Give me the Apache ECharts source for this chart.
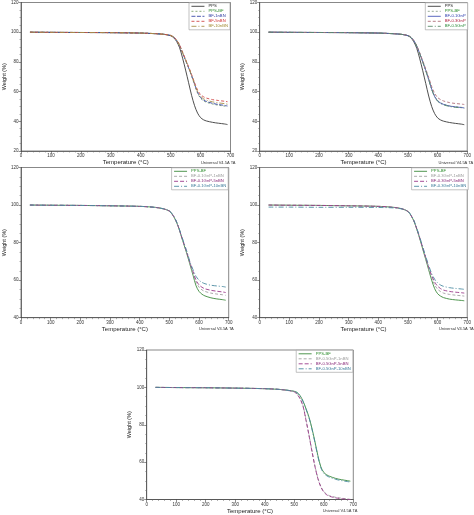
<!DOCTYPE html>
<html><head><meta charset="utf-8">
<script src="https://cdn.jsdelivr.net/npm/echarts@6/dist/echarts.min.js"></script>
<style>html,body{margin:0;padding:0;background:#fff}#c{width:474px;height:515px}</style>
</head><body><div id="c"></div>
<script>
// Temperatures (°C) at which weights are read
const temps = [30, 100, 200, 300, 400, 450, 480, 500, 510, 520, 530, 540, 550, 560, 570, 580, 590, 600, 610, 620, 640, 660, 680, 690];

// Panel 1
const p1_PPS      = [100, 99.9, 99.8, 99.7, 99.4, 99.0, 98.5, 97.6, 96.3, 93.8, 89.5, 82.5, 74.5, 66.0, 57.5, 50.5, 45.5, 42.5, 41.0, 40.2, 39.3, 38.7, 38.2, 37.8];
const p1_PPSBF    = [100, 99.9, 99.8, 99.7, 99.4, 99.0, 98.5, 97.8, 96.7, 94.5, 91.0, 86.0, 81.0, 76.0, 70.5, 64.5, 59.0, 55.5, 53.8, 52.8, 51.6, 50.8, 50.2, 49.8];
const p1_BF1nBN   = [100, 99.9, 99.8, 99.7, 99.4, 99.0, 98.5, 97.8, 96.7, 94.5, 91.0, 86.0, 81.0, 76.0, 70.8, 65.0, 59.5, 56.0, 54.3, 53.3, 52.1, 51.3, 50.7, 50.3];
const p1_BF5nBN   = [100, 99.9, 99.8, 99.7, 99.4, 99.0, 98.5, 97.8, 96.8, 94.7, 91.3, 86.5, 81.7, 76.8, 71.5, 66.0, 61.0, 58.0, 56.5, 55.6, 54.6, 54.0, 53.5, 53.2];
const p1_BF10nBN  = [100, 99.9, 99.8, 99.7, 99.4, 99.0, 98.5, 97.8, 96.7, 94.6, 91.2, 86.2, 81.3, 76.4, 71.0, 65.3, 60.0, 56.8, 55.2, 54.2, 53.1, 52.4, 51.9, 51.5];

// Panel 2
const p2_PPS      = [100, 99.9, 99.8, 99.7, 99.4, 99.0, 98.5, 97.6, 96.2, 93.5, 89.0, 82.0, 74.0, 65.5, 57.0, 50.0, 45.2, 42.3, 40.9, 40.1, 39.2, 38.6, 38.1, 37.7];
const p2_PPSBF    = [100, 99.9, 99.8, 99.7, 99.4, 99.0, 98.5, 97.7, 96.5, 94.2, 90.5, 85.5, 80.0, 74.5, 68.5, 62.0, 57.0, 54.0, 52.5, 51.5, 50.4, 49.8, 49.4, 49.2];
const p2_BF01GnP  = [100, 99.9, 99.8, 99.7, 99.4, 99.0, 98.5, 97.7, 96.5, 94.2, 90.5, 85.5, 80.0, 74.3, 68.2, 61.7, 56.7, 53.8, 52.3, 51.4, 50.3, 49.7, 49.3, 49.0];
const p2_BF03GnP  = [100, 99.9, 99.8, 99.7, 99.4, 99.0, 98.5, 97.8, 96.6, 94.4, 90.8, 86.0, 80.7, 75.2, 69.5, 63.5, 58.8, 56.0, 54.6, 53.7, 52.6, 52.0, 51.6, 51.3];
const p2_BF05GnP  = [100, 99.9, 99.8, 99.7, 99.4, 99.0, 98.5, 97.7, 96.5, 94.2, 90.5, 85.3, 79.8, 74.0, 68.0, 61.5, 56.5, 53.5, 52.0, 51.1, 50.0, 49.4, 49.1, 48.8];

// Panel 3
const p3_PPSBF    = [100, 99.9, 99.8, 99.6, 99.3, 98.8, 98.0, 96.8, 95.0, 92.3, 88.5, 83.5, 78.5, 73.5, 68.0, 62.5, 57.0, 54.0, 52.5, 51.6, 50.6, 50.0, 49.6, 49.3];
const p3_1nBN     = [100, 99.9, 99.8, 99.6, 99.3, 98.8, 98.0, 96.8, 95.0, 92.3, 88.5, 83.6, 78.7, 73.8, 68.5, 63.5, 59.0, 56.3, 54.8, 54.0, 53.1, 52.6, 52.2, 51.9];
const p3_5nBN     = [100, 99.9, 99.8, 99.6, 99.3, 98.8, 98.0, 96.8, 95.0, 92.4, 88.6, 83.8, 79.0, 74.2, 69.0, 64.5, 60.0, 57.5, 56.2, 55.4, 54.6, 54.1, 53.7, 53.4];
const p3_10nBN    = [100, 99.9, 99.8, 99.6, 99.3, 98.8, 98.0, 96.9, 95.2, 92.6, 88.9, 84.2, 79.5, 74.8, 69.5, 65.5, 62.0, 60.0, 58.8, 58.1, 57.3, 56.9, 56.6, 56.3];

// Panel 4
const p4_PPSBF    = [100, 99.9, 99.8, 99.6, 99.3, 98.8, 98.0, 96.6, 94.5, 91.5, 87.0, 82.0, 76.5, 71.0, 65.5, 60.0, 55.5, 52.8, 51.5, 50.7, 49.9, 49.5, 49.2, 49.0];
const p4_1nBN     = [100, 99.9, 99.8, 99.6, 99.3, 98.8, 98.0, 96.6, 94.5, 91.5, 87.1, 82.2, 76.8, 71.5, 66.2, 61.3, 57.5, 55.2, 53.9, 53.1, 52.4, 52.0, 51.7, 51.5];
const p4_5nBN     = [100, 99.9, 99.8, 99.6, 99.3, 98.8, 98.0, 96.6, 94.6, 91.6, 87.3, 82.5, 77.2, 72.0, 67.0, 62.5, 59.0, 56.8, 55.5, 54.7, 54.0, 53.6, 53.3, 53.1];
const p4_10nBN    = [98.9, 98.9, 98.8, 98.8, 98.7, 98.5, 97.9, 96.6, 94.7, 91.8, 87.6, 82.8, 77.7, 72.6, 67.8, 63.5, 60.5, 58.6, 57.4, 56.7, 56.0, 55.6, 55.3, 55.1];

// Panel 5
const p5_PPSBF    = [100, 99.9, 99.8, 99.6, 99.3, 98.9, 98.4, 97.9, 97.2, 95.5, 92.5, 88.5, 84.0, 78.0, 71.0, 63.5, 57.5, 54.5, 53.2, 52.4, 51.3, 50.6, 50.1, 49.8];
const p5_1nBN     = [100, 99.9, 99.8, 99.6, 99.3, 98.9, 98.3, 97.6, 96.3, 94.0, 90.0, 82.5, 74.5, 66.0, 58.0, 51.5, 47.0, 44.3, 42.8, 42.0, 41.2, 40.7, 40.3, 40.1];
const p5_5nBN     = [100, 99.9, 99.8, 99.6, 99.3, 98.9, 98.3, 97.6, 96.2, 93.8, 89.7, 82.2, 74.2, 65.7, 57.7, 51.2, 46.7, 44.0, 42.5, 41.7, 40.9, 40.4, 40.1, 39.9];
const p5_10nBN    = [100, 99.9, 99.8, 99.6, 99.3, 98.9, 98.4, 97.9, 97.1, 95.4, 92.4, 88.3, 83.7, 77.6, 70.5, 63.0, 57.0, 54.0, 52.7, 51.9, 50.8, 50.1, 49.6, 49.3];

// Tick values
const xTicks = [0, 100, 200, 300, 400, 500, 600, 700];
const yTicksTop = [20, 40, 60, 80, 100, 120];
const yTicksBottom = [40, 60, 80, 100, 120];

const FONT = 'Liberation Sans';
const pts = arr => temps.map((t, i) => [t, arr[i]]);

const grids = [
  {left: 21, top: 2.5, width: 209.5, height: 148.5},
  {left: 259.7, top: 2.5, width: 208.5, height: 148.5},
  {left: 21, top: 167.5, width: 207.7, height: 150.2},
  {left: 259.7, top: 167.5, width: 209, height: 150.2},
  {left: 146.7, top: 350, width: 206.6, height: 150}
];

const panels = [
  {grid: 0, yMin: 20, series: [
    ['PPS', p1_PPS, '#3a3a3a', 'solid', '#222'],
    ['PPS-BF', p1_PPSBF, '#7a9f6a', [2, 2], '#2c8c2c'],
    ['BF-1nBN', p1_BF1nBN, '#3a4aa8', [4, 1.5], '#2a3aa0'],
    ['BF-5nBN', p1_BF5nBN, '#d04848', [3, 2], '#d03030'],
    ['BF-10nBN', p1_BF10nBN, '#a89048', [5, 2, 1, 2], '#a08a30']
  ]},
  {grid: 1, yMin: 20, series: [
    ['PPS', p2_PPS, '#3a3a3a', 'solid', '#222'],
    ['PPS-BF', p2_PPSBF, '#8aa08a', [2, 2], '#2c8c2c'],
    ['BF-0.1GnP', p2_BF01GnP, '#4a58b8', 'solid', '#3040b0'],
    ['BF-0.3GnP', p2_BF03GnP, '#b0707a', [3, 2], '#b02040'],
    ['BF-0.5GnP', p2_BF05GnP, '#5a8a6a', [5, 2, 1, 2], '#2a8a3a']
  ]},
  {grid: 2, yMin: 40, series: [
    ['PPS-BF', p3_PPSBF, '#3c8a3c', 'solid', '#2c8c2c'],
    ['BF-0.1GnP-1nBN', p3_1nBN, '#a0a0a0', [3, 2], '#9a9a9a'],
    ['BF-0.1GnP-5nBN', p3_5nBN, '#9a3a8a', [4, 2], '#8a2a7a'],
    ['BF-0.1GnP-10nBN', p3_10nBN, '#4a8aa0', [5, 2, 1, 2], '#3a7a9a']
  ]},
  {grid: 3, yMin: 40, series: [
    ['PPS-BF', p4_PPSBF, '#3c8a3c', 'solid', '#2c8c2c'],
    ['BF-0.3GnP-1nBN', p4_1nBN, '#a0a0a0', [3, 2], '#9a9a9a'],
    ['BF-0.3GnP-5nBN', p4_5nBN, '#9a3a8a', [4, 2], '#8a2a7a'],
    ['BF-0.3GnP-10nBN', p4_10nBN, '#4a8aa0', [5, 2, 1, 2], '#3a7a9a']
  ]},
  {grid: 4, yMin: 40, series: [
    ['PPS-BF', p5_PPSBF, '#3c8a3c', 'solid', '#2c8c2c'],
    ['BF-0.5GnP-1nBN', p5_1nBN, '#a0a0a0', [3, 2], '#9a9a9a'],
    ['BF-0.5GnP-5nBN', p5_5nBN, '#9a3a8a', [4, 2], '#8a2a7a'],
    ['BF-0.5GnP-10nBN', p5_10nBN, '#4a8aa0', [5, 2, 1, 2], '#3a7a9a']
  ]}
];

const xAxes = [], yAxes = [], series = [], legends = [];
panels.forEach((p, pi) => {
  xAxes.push({
    type: 'value', gridIndex: pi, min: 0, max: 700, interval: 100,
    name: 'Temperature (°C)', nameLocation: 'middle', nameGap: 8.5,
    nameTextStyle: {fontFamily: FONT, fontSize: 6, color: '#222'},
    axisLine: {show: true, lineStyle: {color: '#444', width: 0.7}},
    axisTick: {show: true, length: 2.5, lineStyle: {color: '#444', width: 0.6}},
    minorTick: {show: true, splitNumber: 5, length: 1.5, lineStyle: {color: '#666', width: 0.5}},
    axisLabel: {fontFamily: FONT, fontSize: 4.5, color: '#333', margin: 2.5,
      customValues: xTicks},
    splitLine: {show: false}
  });
  yAxes.push({
    type: 'value', gridIndex: pi, min: p.yMin, max: 120, interval: 20,
    name: 'Weight (%)', nameLocation: 'middle', nameGap: 14,
    nameTextStyle: {fontFamily: FONT, fontSize: 5.5, color: '#222'},
    axisLine: {show: true, lineStyle: {color: '#444', width: 0.7}},
    axisTick: {show: true, length: 2.5, lineStyle: {color: '#444', width: 0.6}},
    minorTick: {show: true, splitNumber: 4, length: 1.5, lineStyle: {color: '#666', width: 0.5}},
    axisLabel: {fontFamily: FONT, fontSize: 4.5, color: '#333', margin: 2.5,
      customValues: p.yMin === 20 ? yTicksTop : yTicksBottom},
    splitLine: {show: false}
  });
  const legData = [];
  p.series.forEach(s => {
    const nm = s[0] + '#' + pi;
    series.push({
      name: nm, type: 'line', xAxisIndex: pi, yAxisIndex: pi,
      data: pts(s[1]), symbol: 'none', smooth: 0.3, silent: true,
      lineStyle: {color: s[2], width: 0.9, type: s[3]},
      itemStyle: {color: s[2]}
    });
    legData.push({name: nm, textStyle: {color: s[4]}});
  });
  const g = grids[pi];
  legends.push({
    data: legData, orient: 'vertical',
    right: 474 - (g.left + g.width) + 0.5, top: g.top + 0.3,
    itemWidth: 13, itemHeight: 3.2, itemGap: 1,
    padding: [1.5, 2, 1.5, 2],
    borderColor: '#999', borderWidth: 0.6, backgroundColor: '#fff',
    lineStyle: {width: 0.9},
    itemStyle: {opacity: 0, borderWidth: 0},
    textStyle: {fontFamily: FONT, fontSize: 4.2, padding: [0, 0, 0, -1]},
    formatter: n => n.split('#')[0],
    selectedMode: false
  });
});

const graphics = grids.map((g, i) => ({
  type: 'text', right: 474 - (g.left + g.width) - (i === 4 ? 4 : 5),
  top: g.top + g.height + (i < 2 ? 9.5 : 9),
  style: {text: 'Universal V4.5A TA', fontFamily: FONT, fontSize: 4, fill: '#333'}
}));

const chart = echarts.init(document.getElementById('c'), null, {renderer: 'canvas'});
chart.setOption({
  backgroundColor: '#fff',
  animation: false,
  grid: grids.map(g => Object.assign({show: true, borderColor: '#555', borderWidth: 0.7, backgroundColor: 'transparent'}, g)),
  xAxis: xAxes, yAxis: yAxes, series: series, legend: legends,
  graphic: graphics
});
</script></body></html>
